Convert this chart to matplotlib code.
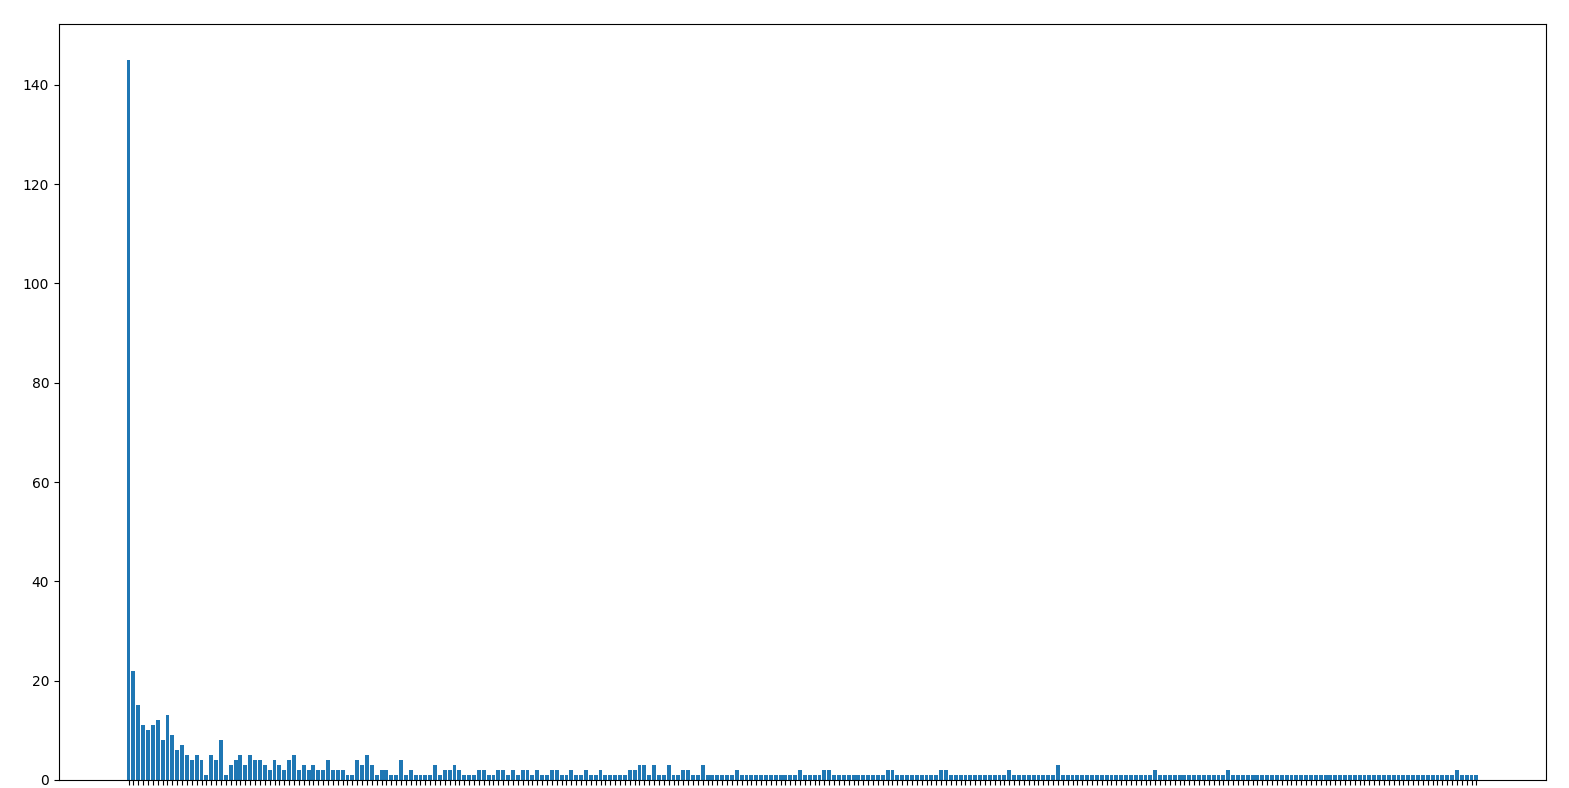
import numpy as np
import matplotlib
matplotlib.use("Agg")
from matplotlib import pyplot as plt

# counts, first 126 bars explicitly
head = [145, 22, 15, 11, 10, 11, 12, 8, 13, 9,
        6, 7, 5, 4, 5, 4, 1, 5, 4, 8,
        1, 3, 4, 5, 3, 5, 4, 4, 3, 2,
        4, 3, 2, 4, 5, 2, 3, 2, 3, 2,
        2, 4, 2, 2, 2, 1, 1, 4, 3, 5,
        3, 1, 2, 2, 1, 1, 4, 1, 2, 1,
        1, 1, 1, 3, 1, 2, 2, 3, 2, 1,
        1, 1, 2, 2, 1, 1, 2, 2, 1, 2,
        1, 2, 2, 1, 2, 1, 1, 2, 2, 1,
        1, 2, 1, 1, 2, 1, 1, 2, 1, 1,
        1, 1, 1, 2, 2, 3, 3, 1, 3, 1,
        1, 3, 1, 1, 2, 2, 1, 1, 3, 1,
        1, 1, 1, 1, 1, 2]
n_bars = 278
# the tail is almost all ones; bar number (1-based) -> count for the rest
tail_peaks = {139: 2, 144: 2, 145: 2, 157: 2, 158: 2, 168: 2, 169: 2,
              182: 2, 192: 3, 212: 2, 227: 2, 274: 2}

counts = list(head)
for k in range(len(head) + 1, n_bars + 1):
    counts.append(tail_peaks.get(k, 1))

x = np.arange(len(counts))

fig, ax = plt.subplots(figsize=(15.69, 7.88), dpi=100)
ax.bar(x, counts)
ax.set_xticks(x)
ax.set_xticklabels([''] * len(x))
plt.subplots_adjust(left=0.0376, right=0.9853, top=0.9695, bottom=0.0102)
plt.savefig('out.png')
